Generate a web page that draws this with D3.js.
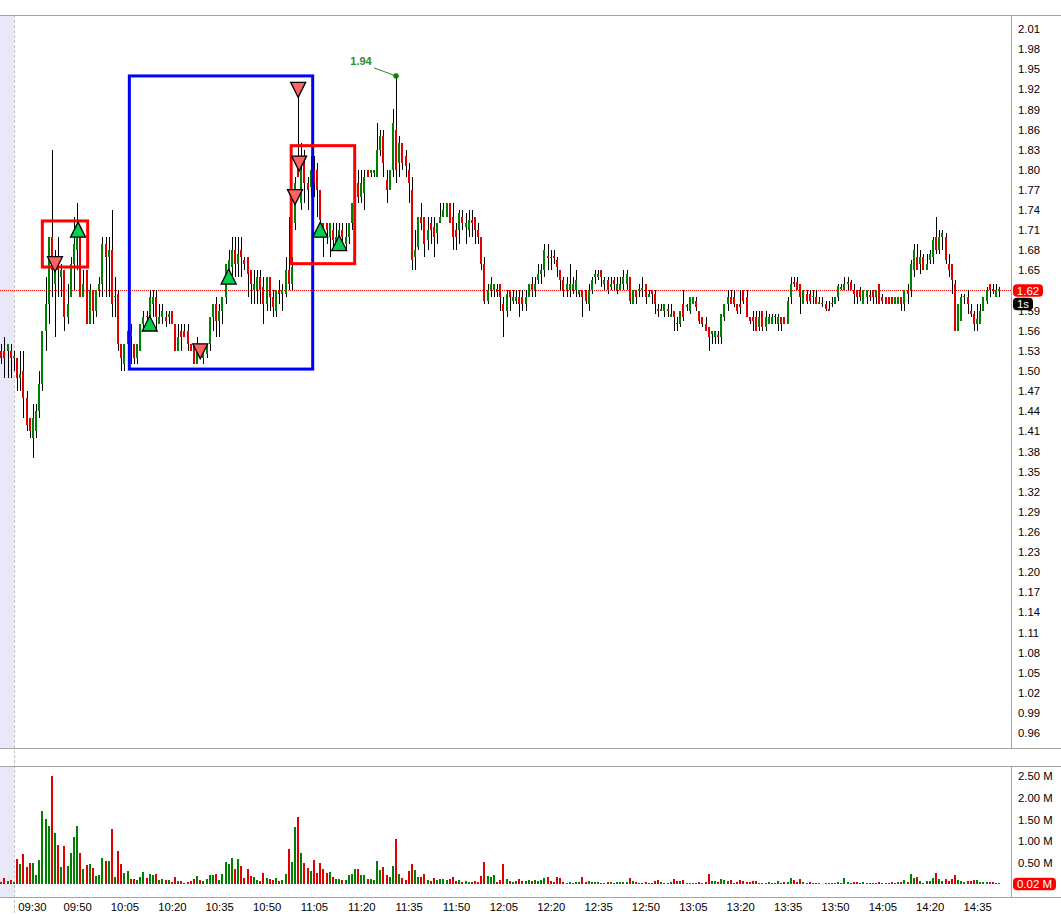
<!DOCTYPE html>
<html><head><meta charset="utf-8">
<script src="https://cdnjs.cloudflare.com/ajax/libs/d3/7.8.5/d3.min.js"></script>
<style>html,body{margin:0;padding:0;background:#fff;overflow:hidden}svg{display:block}text{font-family:"Liberation Sans",Arial,sans-serif}</style>
</head><body><svg id="c" width="1061" height="915"></svg>
<script>
const opens=[1.53,1.53,1.53,1.53,1.52,1.52,1.49,1.50,1.46,1.43,
1.40,1.41,1.44,1.48,1.56,1.60,1.70,1.63,1.67,1.64,
1.65,1.58,1.61,1.66,1.68,1.70,1.61,1.65,1.57,1.62,
1.59,1.62,1.63,1.69,1.67,1.68,1.61,1.615,1.54,1.51,
1.54,1.56,1.54,1.52,1.53,1.57,1.582,1.58,1.60,1.61,
1.57,1.58,1.58,1.58,1.59,1.57,1.53,1.56,1.56,1.56,
1.54,1.54,1.51,1.54,1.52,1.525,1.54,1.58,1.60,1.575,
1.59,1.61,1.64,1.655,1.68,1.66,1.68,1.665,1.67,1.65,
1.62,1.62,1.64,1.625,1.60,1.64,1.61,1.59,1.62,1.615,
1.615,1.65,1.63,1.72,1.82,1.75,1.81,1.78,1.775,1.80,
1.80,1.77,1.72,1.72,1.70,1.71,1.69,1.70,1.71,1.69,
1.70,1.72,1.75,1.78,1.76,1.765,1.80,1.795,1.795,1.79,
1.83,1.85,1.785,1.77,1.80,1.86,1.81,1.84,1.82,1.80,
1.77,1.67,1.685,1.73,1.73,1.695,1.72,1.715,1.705,1.72,
1.73,1.73,1.75,1.73,1.71,1.71,1.73,1.715,1.71,1.725,
1.73,1.71,1.70,1.66,1.605,1.62,1.62,1.622,1.63,1.60,
1.59,1.62,1.605,1.605,1.61,1.61,1.60,1.61,1.63,1.62,
1.635,1.645,1.65,1.672,1.67,1.672,1.665,1.65,1.635,1.62,
1.62,1.62,1.62,1.615,1.62,1.62,1.60,1.62,1.64,1.64,
1.65,1.63,1.635,1.625,1.635,1.62,1.62,1.63,1.63,1.64,
1.60,1.62,1.62,1.62,1.63,1.61,1.62,1.615,1.592,1.59,
1.59,1.592,1.58,1.59,1.572,1.57,1.60,1.595,1.59,1.60,
1.605,1.59,1.58,1.57,1.565,1.555,1.55,1.553,1.55,1.58,
1.60,1.61,1.61,1.60,1.60,1.62,1.61,1.58,1.58,1.58,
1.565,1.59,1.565,1.57,1.57,1.58,1.57,1.58,1.58,1.57,
1.61,1.633,1.633,1.63,1.60,1.615,1.615,1.61,1.61,1.60,
1.602,1.60,1.592,1.60,1.60,1.61,1.622,1.62,1.63,1.632,
1.62,1.62,1.62,1.60,1.61,1.613,1.62,1.61,1.63,1.61,
1.61,1.61,1.61,1.60,1.60,1.61,1.60,1.62,1.62,1.65,
1.67,1.66,1.67,1.65,1.665,1.67,1.70,1.68,1.70,1.70,
1.66,1.66,1.63,1.56,1.575,1.61,1.61,1.59,1.585,1.57,
1.57,1.59,1.605,1.63,1.622,1.61,1.62];
const highs=[1.54,1.55,1.54,1.54,1.53,1.52,1.53,1.53,1.47,1.43,
1.45,1.45,1.50,1.56,1.64,1.70,1.83,1.68,1.70,1.66,
1.65,1.63,1.67,1.73,1.75,1.70,1.65,1.65,1.63,1.62,
1.62,1.64,1.70,1.70,1.70,1.74,1.64,1.62,1.54,1.54,
1.57,1.57,1.54,1.54,1.57,1.59,1.59,1.62,1.62,1.62,
1.60,1.60,1.59,1.59,1.59,1.57,1.57,1.57,1.57,1.57,
1.54,1.54,1.55,1.54,1.54,1.54,1.58,1.60,1.61,1.60,
1.61,1.66,1.68,1.70,1.70,1.70,1.70,1.67,1.67,1.65,
1.65,1.65,1.65,1.64,1.64,1.64,1.62,1.62,1.635,1.63,
1.67,1.73,1.67,1.79,1.92,1.84,1.83,1.79,1.82,1.82,
1.81,1.77,1.72,1.72,1.72,1.72,1.72,1.72,1.72,1.72,
1.72,1.75,1.80,1.80,1.80,1.80,1.80,1.80,1.80,1.87,
1.86,1.86,1.80,1.80,1.89,1.94,1.85,1.84,1.83,1.81,
1.79,1.71,1.73,1.75,1.73,1.73,1.73,1.73,1.72,1.75,
1.75,1.75,1.75,1.75,1.72,1.74,1.74,1.735,1.74,1.74,
1.73,1.72,1.70,1.67,1.63,1.64,1.63,1.63,1.63,1.61,
1.62,1.62,1.62,1.62,1.62,1.62,1.62,1.63,1.64,1.64,
1.66,1.66,1.69,1.69,1.68,1.68,1.67,1.65,1.64,1.64,
1.66,1.64,1.65,1.62,1.62,1.62,1.63,1.64,1.65,1.65,
1.65,1.64,1.64,1.64,1.64,1.64,1.64,1.65,1.65,1.64,
1.62,1.62,1.63,1.64,1.63,1.62,1.62,1.62,1.60,1.60,
1.60,1.60,1.60,1.59,1.58,1.59,1.62,1.60,1.61,1.61,
1.61,1.59,1.58,1.58,1.565,1.56,1.56,1.56,1.585,1.60,
1.62,1.62,1.62,1.60,1.62,1.62,1.62,1.58,1.59,1.59,
1.59,1.59,1.59,1.585,1.585,1.585,1.585,1.58,1.58,1.61,
1.64,1.64,1.64,1.63,1.62,1.62,1.62,1.62,1.62,1.61,
1.61,1.605,1.605,1.61,1.61,1.63,1.63,1.64,1.64,1.635,
1.63,1.62,1.625,1.62,1.62,1.62,1.62,1.62,1.63,1.615,
1.61,1.61,1.61,1.61,1.61,1.61,1.62,1.63,1.665,1.69,
1.69,1.68,1.675,1.675,1.68,1.70,1.73,1.71,1.71,1.705,
1.675,1.66,1.635,1.60,1.615,1.615,1.62,1.60,1.59,1.60,
1.60,1.61,1.625,1.63,1.63,1.63,1.625];
const lows=[1.51,1.49,1.49,1.49,1.50,1.47,1.47,1.43,1.41,1.40,
1.37,1.40,1.43,1.47,1.53,1.57,1.61,1.55,1.61,1.61,
1.56,1.57,1.61,1.62,1.65,1.61,1.61,1.57,1.57,1.57,
1.58,1.61,1.61,1.61,1.61,1.58,1.58,1.53,1.50,1.50,
1.52,1.51,1.51,1.51,1.53,1.56,1.57,1.56,1.58,1.56,
1.57,1.57,1.565,1.57,1.57,1.53,1.53,1.53,1.55,1.53,
1.53,1.51,1.51,1.52,1.51,1.52,1.53,1.56,1.55,1.55,
1.57,1.60,1.63,1.63,1.64,1.64,1.64,1.65,1.61,1.60,
1.60,1.60,1.60,1.57,1.59,1.59,1.58,1.58,1.60,1.59,
1.61,1.62,1.62,1.71,1.79,1.74,1.75,1.74,1.76,1.76,
1.73,1.71,1.67,1.69,1.67,1.68,1.68,1.68,1.69,1.68,
1.69,1.71,1.74,1.75,1.75,1.74,1.79,1.79,1.79,1.79,
1.82,1.79,1.75,1.77,1.79,1.78,1.79,1.80,1.79,1.75,
1.65,1.65,1.68,1.71,1.67,1.68,1.69,1.67,1.69,1.72,
1.73,1.73,1.72,1.68,1.68,1.69,1.71,1.69,1.70,1.70,
1.69,1.69,1.65,1.60,1.60,1.61,1.61,1.61,1.59,1.55,
1.58,1.59,1.60,1.60,1.58,1.59,1.59,1.61,1.61,1.61,
1.63,1.63,1.64,1.65,1.65,1.66,1.64,1.62,1.61,1.61,
1.61,1.615,1.61,1.61,1.58,1.60,1.59,1.615,1.63,1.635,
1.625,1.62,1.615,1.62,1.62,1.615,1.62,1.62,1.62,1.60,
1.60,1.60,1.61,1.61,1.60,1.61,1.60,1.585,1.58,1.59,
1.58,1.58,1.58,1.56,1.56,1.565,1.575,1.59,1.585,1.60,
1.59,1.57,1.565,1.56,1.53,1.54,1.54,1.54,1.54,1.575,
1.59,1.60,1.595,1.585,1.585,1.60,1.58,1.57,1.56,1.56,
1.56,1.56,1.56,1.57,1.57,1.57,1.56,1.56,1.57,1.57,
1.60,1.625,1.62,1.585,1.60,1.60,1.60,1.60,1.60,1.60,
1.595,1.59,1.59,1.595,1.60,1.605,1.62,1.62,1.62,1.62,
1.60,1.60,1.605,1.60,1.60,1.605,1.60,1.60,1.60,1.60,
1.60,1.60,1.60,1.60,1.60,1.59,1.59,1.60,1.61,1.64,
1.65,1.645,1.65,1.65,1.66,1.66,1.675,1.675,1.68,1.66,
1.64,1.615,1.56,1.56,1.575,1.60,1.585,1.58,1.56,1.56,
1.57,1.59,1.60,1.61,1.615,1.61,1.61];
const closes=[1.52,1.52,1.54,1.52,1.522,1.49,1.495,1.46,1.42,1.41,
1.43,1.44,1.48,1.56,1.60,1.70,1.65,1.67,1.65,1.65,
1.58,1.60,1.66,1.69,1.70,1.61,1.63,1.57,1.62,1.59,
1.62,1.63,1.69,1.67,1.68,1.60,1.612,1.54,1.52,1.54,
1.56,1.55,1.52,1.54,1.57,1.58,1.58,1.61,1.61,1.58,
1.58,1.59,1.575,1.585,1.57,1.53,1.55,1.55,1.55,1.54,
1.53,1.51,1.53,1.52,1.53,1.54,1.58,1.60,1.575,1.59,
1.61,1.66,1.665,1.68,1.66,1.675,1.67,1.66,1.645,1.63,
1.63,1.64,1.62,1.60,1.64,1.61,1.595,1.62,1.615,1.62,
1.65,1.63,1.655,1.78,1.79,1.80,1.78,1.77,1.80,1.78,
1.77,1.725,1.70,1.71,1.72,1.695,1.70,1.71,1.70,1.70,
1.72,1.75,1.78,1.76,1.78,1.79,1.79,1.80,1.80,1.83,
1.85,1.81,1.77,1.80,1.87,1.80,1.84,1.81,1.805,1.78,
1.665,1.68,1.73,1.72,1.69,1.71,1.71,1.70,1.72,1.73,
1.74,1.75,1.72,1.70,1.70,1.735,1.72,1.72,1.725,1.72,
1.71,1.70,1.66,1.605,1.62,1.63,1.63,1.618,1.61,1.59,
1.615,1.61,1.61,1.61,1.60,1.60,1.61,1.63,1.62,1.63,
1.645,1.65,1.68,1.668,1.668,1.668,1.655,1.635,1.62,1.63,
1.63,1.63,1.635,1.62,1.61,1.605,1.62,1.635,1.645,1.645,
1.64,1.635,1.62,1.63,1.63,1.63,1.63,1.64,1.645,1.605,
1.62,1.61,1.622,1.623,1.61,1.615,1.615,1.60,1.59,1.592,
1.60,1.59,1.585,1.58,1.57,1.59,1.58,1.598,1.61,1.61,
1.595,1.575,1.57,1.56,1.55,1.56,1.56,1.55,1.585,1.60,
1.61,1.60,1.60,1.59,1.595,1.605,1.58,1.575,1.575,1.56,
1.58,1.565,1.58,1.58,1.58,1.582,1.58,1.57,1.57,1.605,
1.63,1.63,1.62,1.61,1.62,1.605,1.605,1.612,1.60,1.603,
1.60,1.592,1.59,1.602,1.61,1.626,1.625,1.63,1.632,1.62,
1.615,1.61,1.61,1.62,1.62,1.61,1.61,1.62,1.60,1.605,
1.60,1.60,1.60,1.61,1.61,1.60,1.62,1.615,1.66,1.68,
1.65,1.67,1.65,1.66,1.675,1.695,1.68,1.70,1.705,1.665,
1.65,1.635,1.56,1.60,1.61,1.612,1.60,1.585,1.57,1.578,
1.59,1.61,1.62,1.62,1.62,1.62,1.622];
const volumes=[.07,.16,.09,.11,.07,.59,.48,.71,.41,.50,
.50,.23,.57,1.70,1.51,1.35,2.50,1.19,.92,.41,
.89,.43,.73,1.10,1.35,.73,.36,.46,.48,.39,
.20,.23,.62,.55,.55,1.28,.18,.78,.48,.27,
.32,.13,.13,.11,.18,.30,.16,.25,.23,.25,
.11,.13,.11,.11,.07,.18,.09,.09,.04,.07,
.09,.13,.20,.11,.09,.13,.23,.23,.25,.11,
.25,.53,.48,.62,.36,.59,.43,.16,.36,.20,
.18,.11,.09,.27,.16,.13,.11,.16,.09,.11,
.25,.82,.53,1.33,1.56,.73,.50,.39,.32,.57,
.27,.50,.36,.27,.30,.18,.13,.13,.11,.11,.23,
.25,.36,.36,.23,.23,.13,.13,.11,.55,.34,
.41,.23,.18,.43,1.05,.25,.16,.11,.32,.48,
.34,.18,.18,.25,.11,.09,.16,.11,.13,.13,
.11,.13,.18,.09,.11,.07,.09,.07,.07,.09,
.07,.20,.53,.20,.18,.23,.07,.11,.48,.13,
.09,.07,.09,.13,.09,.09,.11,.09,.11,.09,
.11,.16,.18,.09,.07,.18,.16,.07,.04,.07,
.04,.07,.07,.18,.07,.09,.07,.07,.07,.04,
.04,.07,.07,.04,.07,.07,.07,.07,.16,.09,
.07,.04,.04,.07,.04,.04,.09,.11,.07,.04,
.04,.07,.13,.09,.09,.11,.04,.04,.04,.04,.07,
.04,.07,.25,.09,.09,.07,.13,.11,.09,.11,
.04,.07,.11,.09,.07,.07,.09,.09,.04,.04,
.04,.07,.04,.04,.09,.04,.07,.07,.16,.11,
.07,.13,.07,.04,.07,.04,.04,.04,.03,.04,
.04,.04,.04,.07,.04,.16,.07,.04,.07,.07,
.04,.07,.04,.04,.04,.04,.07,.04,.04,.04,
.07,.04,.07,.07,.11,.07,.25,.16,.18,.09,
.04,.09,.09,.16,.27,.13,.09,.13,.09,.13,
.23,.11,.09,.07,.09,.09,.11,.11,.07,.07,
.07,.07,.07,.04,.04];
const priceTicks=[2.01,1.98,1.95,1.92,1.89,1.86,1.83,1.80,1.77,1.74,1.71,1.68,1.65,1.62,1.59,1.56,1.53,1.50,1.47,1.44,1.41,1.38,1.35,1.32,1.29,1.26,1.23,1.20,1.17,1.14,1.11,1.08,1.05,1.02,0.99,0.96];
const volTicks=[0.5,1,1.5,2,2.5];
const timeLabels=["09:30","09:50","10:05","10:20","10:35","10:50","11:05","11:20","11:35","11:50","12:05","12:20","12:35","12:50","13:05","13:20","13:35","13:50","14:05","14:20","14:35"];
const timeTickBars=[9.7,24,39,54,69,84,99,114,129,144,159,174,189,204,219,234,249,264,279,294,309];
const lastPrice=1.62, lastVol=0.02, peakBar=125, peakPrice=1.94;
const boxBarsA=[40.45,12.9,91.7], boxBarsB=[98.7,27.45,112];
const boxPriceTop=[1.94,1.7237,1.836], boxPriceBot=[1.5028,1.655,1.66];
const boxColors=["#0000ff","#ff0000","#ff0000"];
const sellBars=[17,94,94.3,93,63], sellPrices=[1.66,1.92,1.81,1.76,1.53];
const buyBars=[24.3,47,72,101,107], buyPrices=[1.71,1.57,1.64,1.71,1.69];

const GREEN="#008000",RED="#e00000",GRID="#a3a3a3";
const svg=d3.select("#c");
const x=d3.scaleLinear().domain([0,316]).range([1.3,999.2]);
const y=d3.scaleLinear().domain([0.96,2.01]).range([733,29]);
const v=d3.scaleLinear().domain([0.02,2.5]).range([884,776]);
const n=closes.length, idx=d3.range(n);

// panels
svg.append("rect").attr("x",0).attr("y",15).attr("width",14).attr("height",733).attr("fill","#e8e8f8");
svg.append("rect").attr("x",0).attr("y",766).attr("width",14).attr("height",131).attr("fill","#e8e8f8");
svg.append("line").attr("x1",14.5).attr("x2",14.5).attr("y1",15).attr("y2",915).attr("stroke","#c0c0c0").attr("stroke-dasharray","3,2");
[15,748,766,897].forEach(p=>svg.append("line").attr("x1",0).attr("x2",1061).attr("y1",p+.5).attr("y2",p+.5).attr("stroke",GRID));
[[15,748],[766,897]].forEach(r=>svg.append("line").attr("x1",1011.5).attr("x2",1011.5).attr("y1",r[0]).attr("y2",r[1]).attr("stroke",GRID));

// last-price line
svg.append("line").attr("x1",0).attr("x2",1011).attr("y1",y(lastPrice)).attr("y2",y(lastPrice)).attr("stroke","#ff0000").attr("stroke-dasharray","1,1");

// candles
const cx=i=>Math.round(x(i));
const g=svg.append("g").attr("shape-rendering","crispEdges");
g.selectAll(".w").data(idx).join("rect").attr("x",cx).attr("width",1)
 .attr("y",i=>y(highs[i])).attr("height",i=>Math.max(1,y(lows[i])-y(highs[i]))).attr("fill","#000");
g.selectAll(".b").data(idx).join("rect").attr("class","b").attr("x",i=>cx(i)-1).attr("width",2)
 .attr("y",i=>y(Math.max(opens[i],closes[i]))).attr("height",i=>Math.max(1.5,Math.abs(y(opens[i])-y(closes[i]))))
 .attr("fill",i=>closes[i]>=opens[i]?GREEN:RED);

// volume
svg.append("g").attr("shape-rendering","crispEdges").selectAll("rect").data(idx).join("rect")
 .attr("x",i=>cx(i)-1).attr("width",2).attr("y",i=>v(volumes[i])).attr("height",i=>v(lastVol)-v(volumes[i]))
 .attr("fill",i=>closes[i]>=opens[i]?GREEN:RED);

// boxes
boxColors.forEach((c,k)=>svg.append("rect").attr("x",x(boxBarsA[k])+.3).attr("y",y(boxPriceTop[k]))
 .attr("width",x(boxBarsB[k])-x(boxBarsA[k])-.6).attr("height",y(boxPriceBot[k])-y(boxPriceTop[k]))
 .attr("fill","none").attr("stroke",c).attr("stroke-width",3));

// triangles
const tri=(bars,prices,up,fill)=>svg.append("g").selectAll("path").data(bars).join("path")
 .attr("transform",(b,k)=>`translate(${x(b)},${y(prices[k])})`)
 .attr("d",up?"M0,-8L7.5,7L-7.5,7Z":"M0,8L7.5,-7L-7.5,-7Z")
 .attr("fill",fill).attr("stroke","#000").attr("stroke-width",1.3);
tri(sellBars,sellPrices,false,"#ff6262");
tri(buyBars,buyPrices,true,"#00d04c");

// peak marker
const px=x(peakBar),py=y(peakPrice);
svg.append("line").attr("x1",px).attr("y1",py).attr("x2",px-22).attr("y2",py-8).attr("stroke","#228b22");
svg.append("circle").attr("cx",px).attr("cy",py).attr("r",2.7).attr("fill","#0a800a");
svg.append("text").attr("x",px-35).attr("y",py-11).attr("text-anchor","middle").attr("font-size",11).attr("font-weight","bold").attr("fill","#2e8b2e").text(peakPrice.toFixed(2));

// axes
const style=s=>{s.select(".domain").remove();s.selectAll("text").attr("font-size",11.3).attr("fill","#000").style("font-family",'"Liberation Sans",Arial,sans-serif');};
svg.append("g").attr("transform","translate(1011,0)").call(d3.axisRight(y).tickValues(priceTicks).tickSize(0).tickPadding(7).tickFormat(d3.format(".2f"))).call(style);
svg.append("g").attr("transform","translate(1011,0)").call(d3.axisRight(v).tickValues(volTicks).tickSize(0).tickPadding(7).tickFormat(d=>d3.format(".2f")(d)+" M")).call(style);
svg.append("g").attr("transform","translate(0,897)").call(d3.axisBottom(x).tickValues(timeTickBars).tickSize(0).tickPadding(6).tickFormat((d,i)=>timeLabels[i])).call(style);

// pills
const pill=(px0,w,cy,h,f,t)=>{svg.append("rect").attr("x",px0).attr("y",cy-h/2).attr("width",w).attr("height",h).attr("rx",4).attr("fill",f);
 svg.append("text").attr("x",px0+w/2).attr("y",cy).attr("dy",".36em").attr("text-anchor","middle").attr("font-size",11.5).attr("fill","#fff").text(t);};
pill(1013,30,y(lastPrice),12.5,"#ff0000",lastPrice.toFixed(2));
pill(1013,20,304,12.5,"#000","1s");
pill(1013,43,v(lastVol),12.5,"#ff0000",lastVol.toFixed(2)+" M");
</script></body></html>
